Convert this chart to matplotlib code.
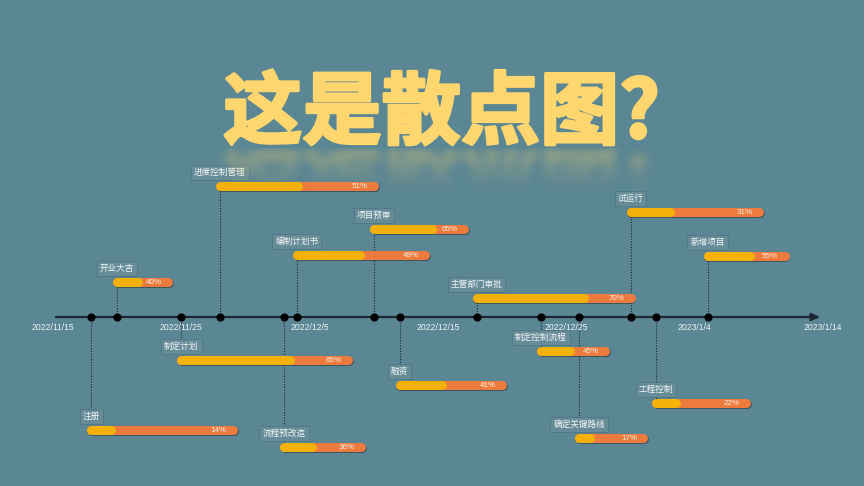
import numpy as np
import pandas as pd
import matplotlib
matplotlib.use('Agg')
import matplotlib.pyplot as plt
import matplotlib.dates as mdates
import matplotlib.patheffects as pe

plt.rcParams['font.family'] = ['Noto Sans CJK SC', 'DejaVu Sans']

# ---- data ----
tasks = ['注册', '开业大吉', '制定计划', '进度控制管理', '流程预改造', '编制计划书', '项目预审',
         '融资', '主管部门审批', '制定控制流程', '确定关键路线', '试运行', '工程控制', '新增项目']
start_dates = ['2022-11-18', '2022-11-20', '2022-11-25', '2022-11-28', '2022-12-03', '2022-12-04',
               '2022-12-10', '2022-12-12', '2022-12-18', '2022-12-23', '2022-12-26', '2022-12-30',
               '2023-01-01', '2023-01-05']
durations = [11, 4, 13, 12, 6, 10, 7, 8, 12, 5, 5, 10, 7, 6]
progress = [14, 40, 65, 51, 36, 49, 65, 41, 70, 45, 17, 31, 22, 55]
heights = [-113, 35, -43, 131, -130, 62, 88, -68, 19, -34, -121, 105, -86, 61]
tick_dates = ['2022-11-15', '2022-11-25', '2022-12-05', '2022-12-15', '2022-12-25', '2023-01-04', '2023-01-14']
tick_labels = ['2022/11/15', '2022/11/25', '2022/12/5', '2022/12/15', '2022/12/25', '2023/1/4', '2023/1/14']
title = '这是散点图?'

bg = '#5b8693'
yellow = '#f3b10a'
orange = '#ee7b3e'
dark = '#1b2631'
title_color = '#ffd76e'

W, H, DPI = 8.64, 4.86, 100

starts = mdates.date2num(pd.to_datetime(start_dates))
ends = starts + np.array(durations)
ticks = mdates.date2num(pd.to_datetime(tick_dates))
origin = ticks[0]
px_day = (823 - 53) / 60.0


def title_text(f):
    f.text(0.511, 0.765, title, ha='center', va='center', fontsize=57,
           fontweight='heavy', color=title_color,
           path_effects=[pe.withStroke(linewidth=2.2, foreground=title_color)])


fig = plt.figure(figsize=(W, H), dpi=DPI, facecolor=bg)
ax = fig.add_axes([0, 0, 1, 1])
ax.set_facecolor(bg)
ax.axis('off')
ax.set_xlim(origin - 53 / px_day, origin + (864 - 53) / px_day)
ax.set_ylim(-169, 317)

# title + blurred reflection
title_text(fig)
fig2 = plt.figure(figsize=(W, H), dpi=DPI)
fig2.patch.set_alpha(0)
title_text(fig2)
fig2.canvas.draw()
arr = np.asarray(fig2.canvas.buffer_rgba()).astype(float) / 255
plt.close(fig2)
alpha = arr[:, :, 3]
rows = np.where(alpha.max(axis=1) > 0.1)[0]
top, bot = rows[0], rows[-1]
refl = alpha[top:bot + 1][::-1].copy()
refl = np.pad(refl, ((0, 24), (0, 0)))


def box_blur(a, r, axis):
    c = np.cumsum(np.pad(a, [(r + 1, r) if i == axis else (0, 0) for i in range(2)]), axis=axis)
    if axis == 0:
        return (c[2 * r + 1:] - c[:-2 * r - 1]) / (2 * r + 1)
    return (c[:, 2 * r + 1:] - c[:, :-2 * r - 1]) / (2 * r + 1)


for _ in range(3):
    refl = box_blur(refl, 4, 0)
    refl = box_blur(refl, 4, 1)
fade = np.clip(1 - np.arange(refl.shape[0]) / 44.0, 0, 1) ** 1.4 * 0.4
refl = refl * fade[:, None]
rgb = np.array(matplotlib.colors.to_rgb(title_color))
img = np.zeros(refl.shape + (4,))
img[:, :, :3] = rgb
img[:, :, 3] = refl
gap = 2
fig.figimage(img, xo=0, yo=int(H * DPI) - (bot + gap) - img.shape[0], origin='upper', zorder=0)

# time axis
ax.annotate('', xy=(ticks[-1], 0), xytext=(origin, 0),
            arrowprops=dict(arrowstyle='-|>,head_length=0.5,head_width=0.22', color=dark, lw=1.6),
            zorder=2)
for t, lab in zip(ticks, tick_labels):
    ax.text(t, -11, lab, ha='center', va='center', fontsize=6.2, color='#eef3f5',
            family=['Liberation Sans', 'DejaVu Sans'])

ax.vlines(starts, 0, heights, colors=dark, linestyles=(0, (1, 1.5)), lw=0.8, zorder=1)
ax.scatter(starts, np.zeros(len(starts)), s=24, color='black', zorder=3)

shadow = [pe.SimpleLineShadow(offset=(0.6, -0.6), shadow_color='black', alpha=0.35), pe.Normal()]
for s, e, p, h, name in zip(starts, ends, progress, heights, tasks):
    ax.plot([s, e], [h, h], lw=6.5, color=orange, solid_capstyle='round',
            path_effects=shadow, zorder=4)
    ax.plot([s, s + (e - s) * p / 100], [h, h], lw=6.5, color=yellow,
            solid_capstyle='round', zorder=5)
    ax.annotate(f'{p}%', (e, h), xytext=(-4.5, -0.3), textcoords='offset points',
                ha='right', va='center', fontsize=5.8, color='#fbeee6', zorder=6,
                family=['Liberation Sans', 'DejaVu Sans'])
    ax.annotate(name, (s, h), xytext=(0, 9.5), textcoords='offset points',
                ha='center', va='center', fontsize=6.2, color='#f4f7f8', zorder=6,
                bbox=dict(boxstyle='square,pad=0.35', fc='#688d99', ec='#4f7482', lw=0.6, alpha=0.9))

fig.savefig('out.png', dpi=DPI, facecolor=bg)
